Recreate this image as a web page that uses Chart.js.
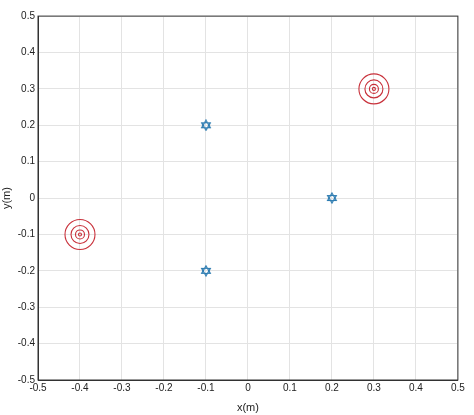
<!DOCTYPE html>
<html><head><script src="https://cdn.jsdelivr.net/npm/chart.js@4"></script>
<style>html,body{margin:0;padding:0;background:#fff}#w{width:474px;height:415px}</style></head>
<body><div id="w"><canvas id="c"></canvas></div>
<script>
const sourceX=[-0.4,0.3];
const sourceY=[-0.1,0.3];
const starX=[-0.1,-0.1,0.2];
const starY=[0.2,-0.2,0];
const ringRadii=[15,9,4.5,1.5];
const ticks=[-0.5,-0.4,-0.3,-0.2,-0.1,0,0.1,0.2,0.3,0.4,0.5];

function hexagram(){
  const c=document.createElement('canvas');c.width=12;c.height=12;
  const g=c.getContext('2d');g.strokeStyle='#2a7ab0';g.lineWidth=1.2;
  for(const off of [-Math.PI/2,Math.PI/2]){
    g.beginPath();
    for(let i=0;i<3;i++){const a=off+i*2*Math.PI/3;const x=6+5*Math.cos(a),y=6+5*Math.sin(a);i?g.lineTo(x,y):g.moveTo(x,y);}
    g.closePath();g.stroke();
  }
  return c;
}
const srcPts=sourceX.map((x,i)=>({x,y:sourceY[i]}));
const datasets=ringRadii.map(r=>({data:srcPts,pointStyle:'circle',pointRadius:r,borderColor:'#c8303a',backgroundColor:'transparent',borderWidth:1.1,showLine:false}));
datasets.push({data:starX.map((x,i)=>({x,y:starY[i]})),pointStyle:hexagram(),showLine:false});
const fmt=v=>String(Math.round(v*10)/10);
new Chart(document.getElementById('c'),{type:'scatter',data:{datasets},
options:{responsive:true,maintainAspectRatio:false,animation:false,
layout:{padding:{top:-6,right:8,left:0,bottom:0}},
plugins:{legend:{display:false},tooltip:{enabled:false}},
scales:{
x:{type:'linear',min:-0.5,max:0.5,afterBuildTicks:a=>{a.ticks=ticks.map(v=>({value:v}))},afterFit:a=>{a.height=35},
 ticks:{callback:fmt,font:{size:10,family:'Liberation Sans'},color:'#222',maxRotation:0,padding:2},
 grid:{color:'#e3e3e3',tickLength:0},border:{color:'#333'},
 title:{display:true,text:'x(m)',font:{size:11,family:'Liberation Sans'},color:'#222',padding:{top:0,bottom:0}}},
y:{type:'linear',min:-0.5,max:0.5,afterBuildTicks:a=>{a.ticks=ticks.map(v=>({value:v}))},afterFit:a=>{a.width=38},
 ticks:{callback:fmt,font:{size:10,family:'Liberation Sans'},color:'#222',padding:3},
 grid:{color:'#e3e3e3',tickLength:0},border:{color:'#333'},
 title:{display:true,text:'y(m)',font:{size:11,family:'Liberation Sans'},color:'#222',padding:{top:0,bottom:0}}}
}},
plugins:[{id:'box',afterDraw(ch){const a=ch.chartArea,g=ch.ctx;g.save();g.strokeStyle='#333';g.lineWidth=1;g.strokeRect(a.left,a.top,a.right-a.left,a.bottom-a.top);g.restore();}}]
});
</script></body></html>
